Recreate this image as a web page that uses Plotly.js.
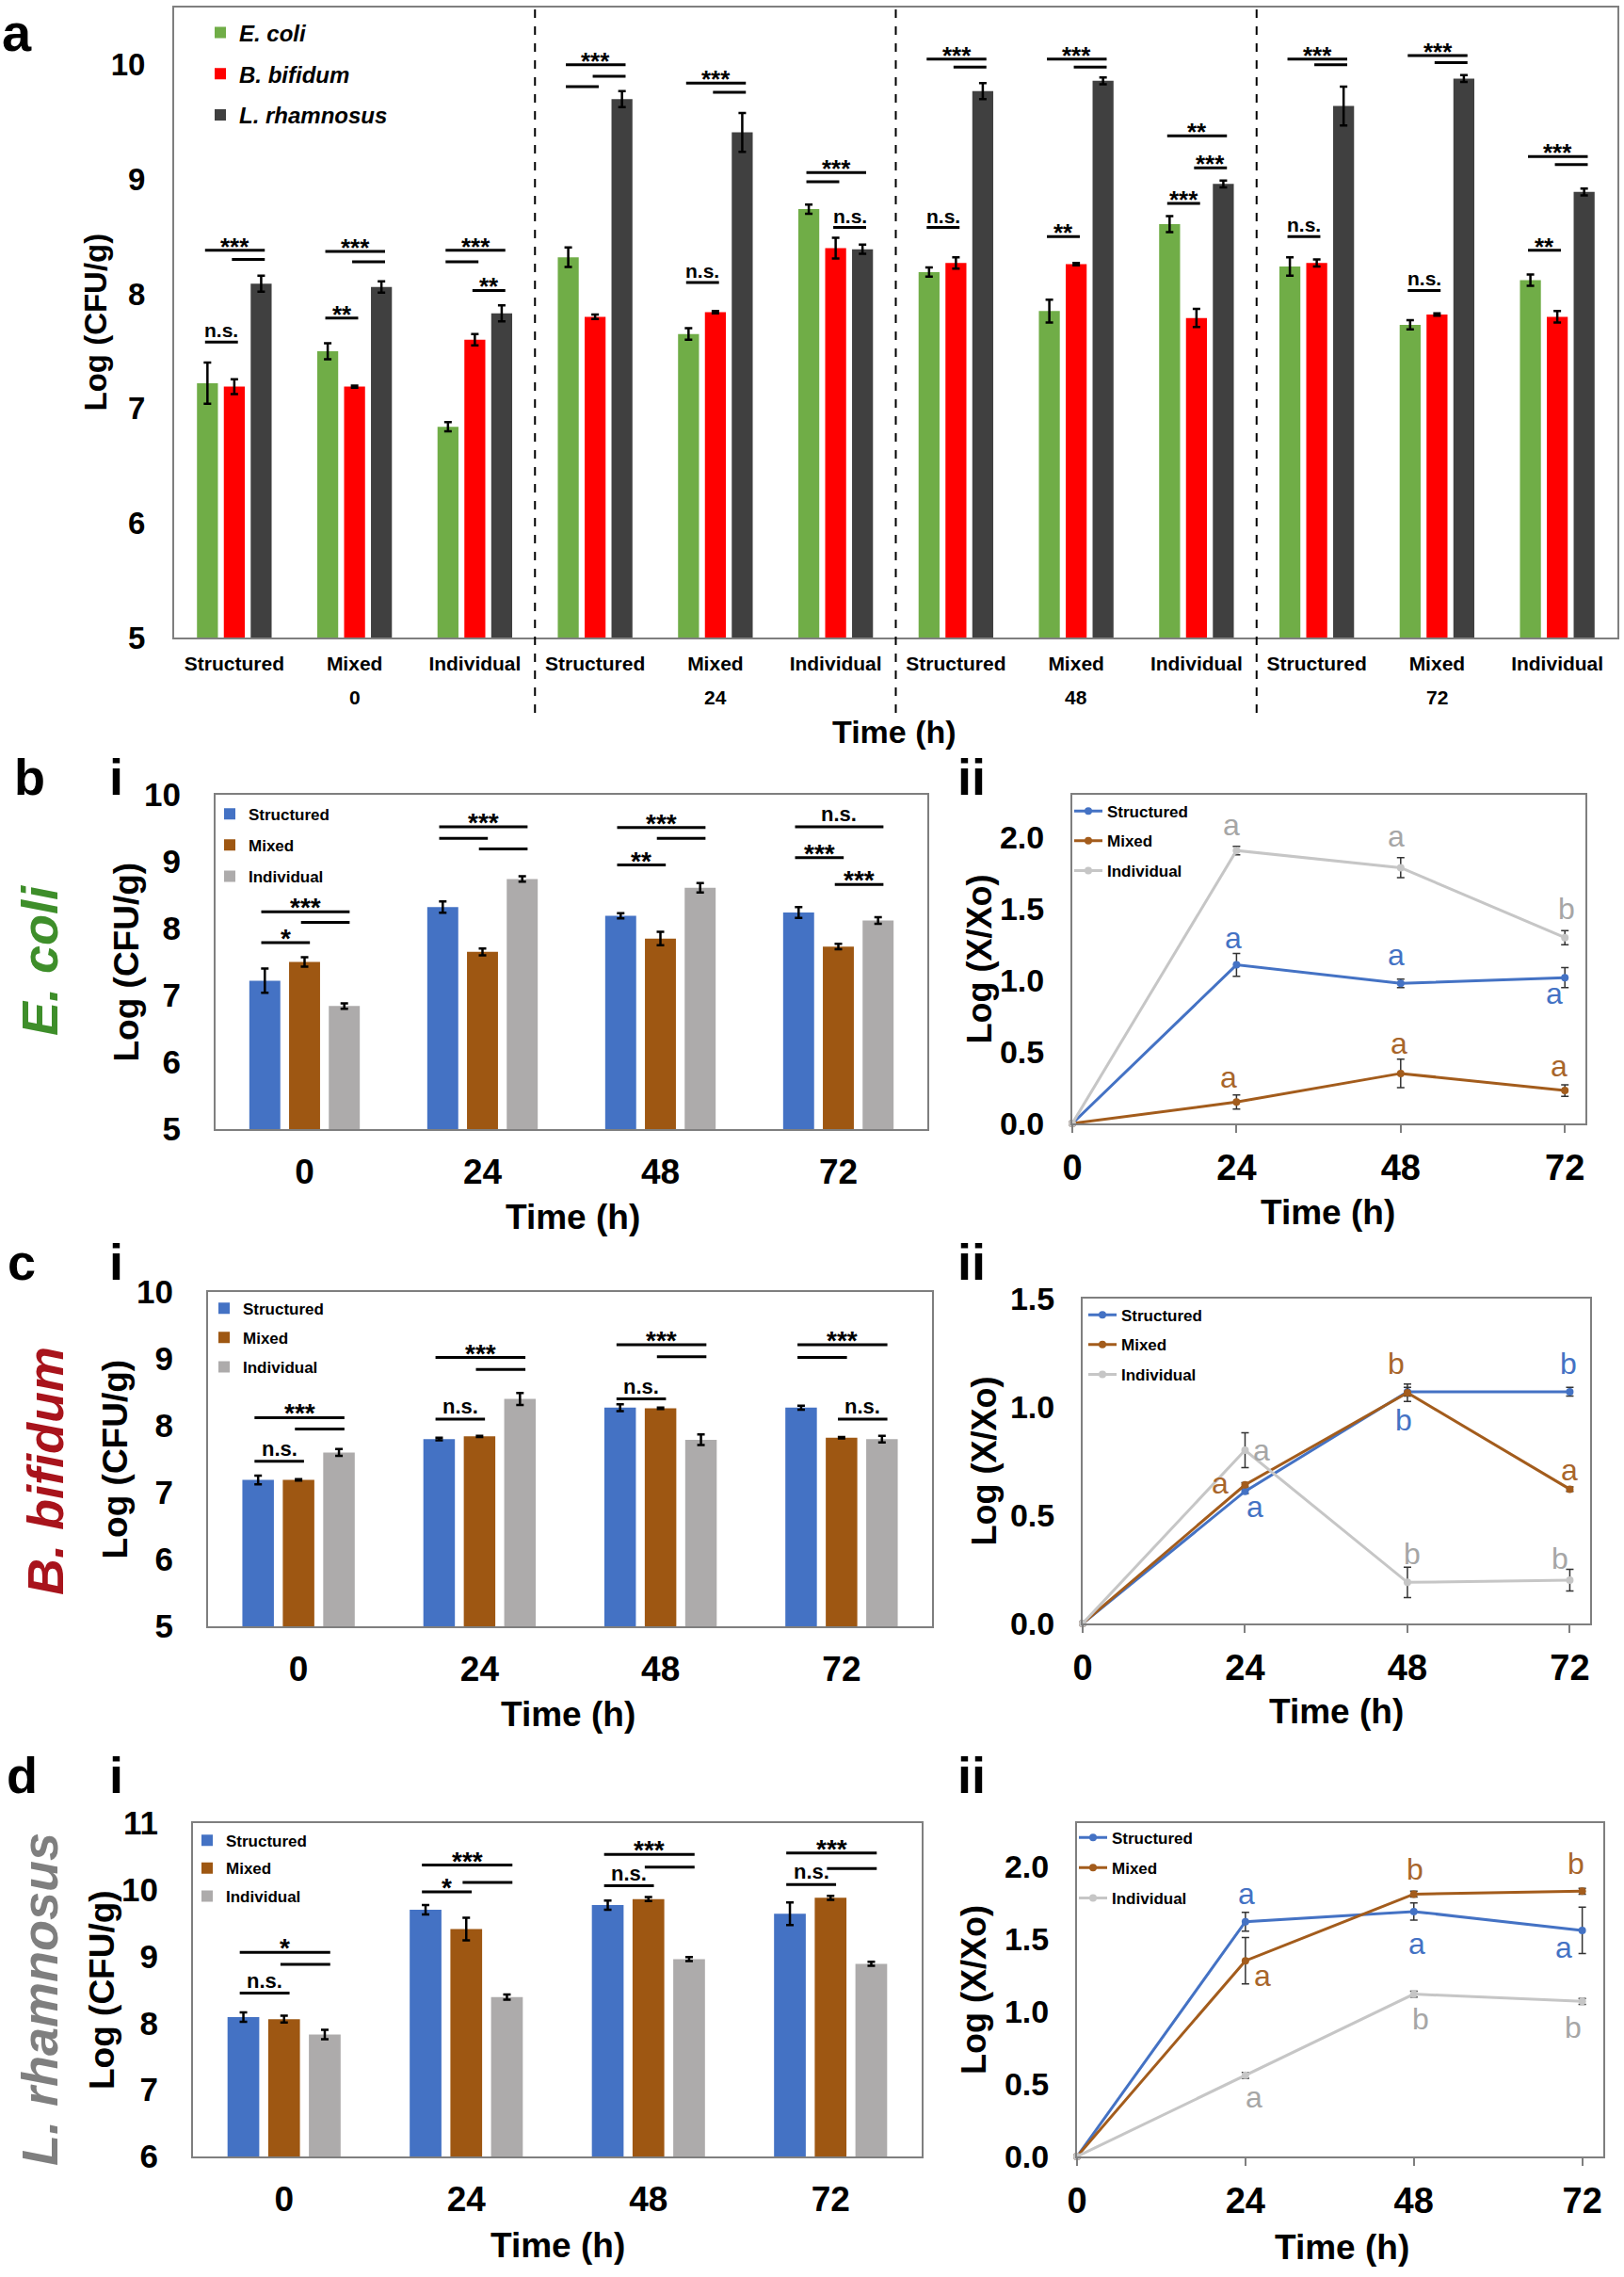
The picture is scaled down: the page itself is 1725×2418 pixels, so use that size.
<!DOCTYPE html>
<html>
<head>
<meta charset="utf-8">
<script src="https://cdn.plot.ly/plotly-3.0.1.min.js"></script>
<style>
  html, body { margin: 0; padding: 0; background: #fff; }
  #fig { width: 1725px; height: 2418px; }
</style>
</head>
<body>
<div id="fig"></div>
<script>
// ---------- data ----------
const conditions = ['Structured', 'Mixed', 'Individual'];
const times = [0, 24, 48, 72];
const species = ['E. coli', 'B. bifidum', 'L. rhamnosus'];

// Log (CFU/g); order: 0 h (Structured, Mixed, Individual), 24 h (...), 48 h (...), 72 h (...)
const ecoliCfu   = [7.22, 7.50, 6.84, 8.32, 7.65, 8.74, 8.19, 7.85, 8.61, 8.24, 7.73, 8.12];
const ecoliSd    = [0.18, 0.07, 0.04, 0.085, 0.05, 0.04, 0.04, 0.10, 0.07, 0.08, 0.04, 0.05];
const bifidumCfu = [7.19, 7.19, 7.60, 7.80, 7.84, 8.40, 8.27, 8.26, 7.79, 8.27, 7.82, 7.80];
const bifidumSd  = [0.065, 0.01, 0.05, 0.02, 0.01, 0.09, 0.05, 0.01, 0.08, 0.03, 0.01, 0.05];
const rhamCfu    = [8.09, 8.06, 7.83, 9.70, 9.41, 8.39, 9.77, 9.86, 8.96, 9.64, 9.88, 8.89];
const rhamSd     = [0.07, 0.05, 0.07, 0.07, 0.17, 0.04, 0.07, 0.03, 0.03, 0.17, 0.03, 0.03];

// Log (X/Xo) at 0, 24, 48, 72 h
const ecoliGrowthStructured   = [0, 1.11, 0.98, 1.02];
const ecoliGrowthStructuredSd = [0, 0.08, 0.03, 0.07];
const ecoliGrowthMixed        = [0, 0.15, 0.35, 0.23];
const ecoliGrowthMixedSd      = [0, 0.05, 0.10, 0.04];
const ecoliGrowthIndividual   = [0, 1.91, 1.79, 1.30];
const ecoliGrowthIndividualSd = [0, 0.03, 0.07, 0.05];

const bifidumGrowthStructured   = [0, 0.61, 1.07, 1.07];
const bifidumGrowthStructuredSd = [0, 0.01, 0.02, 0.02];
const bifidumGrowthMixed        = [0, 0.64, 1.065, 0.62];
const bifidumGrowthMixedSd      = [0, 0.01, 0.04, 0.01];
const bifidumGrowthIndividual   = [0, 0.80, 0.19, 0.20];
const bifidumGrowthIndividualSd = [0, 0.08, 0.07, 0.05];

const rhamGrowthStructured   = [0, 1.62, 1.69, 1.56];
const rhamGrowthStructuredSd = [0, 0.065, 0.06, 0.16];
const rhamGrowthMixed        = [0, 1.35, 1.81, 1.83];
const rhamGrowthMixedSd      = [0, 0.16, 0.02, 0.02];
const rhamGrowthIndividual   = [0, 0.56, 1.12, 1.07];
const rhamGrowthIndividualSd = [0, 0.02, 0.02, 0.02];

// significance brackets: [group, from bar, to bar, level, label]
const sigSpecies = [
  [0, 0, 1, 7.58, 'n.s.'], [0, 0, 2, 8.38, '***'], [0, 1, 2, 8.30, ''],
  [1, 0, 1, 7.79, '**'],   [1, 0, 2, 8.37, '***'], [1, 1, 2, 8.28, ''],
  [2, 0, 2, 8.38, '***'],  [2, 0, 1, 8.28, ''],    [2, 1, 2, 8.03, '**'],
  [3, 0, 2, 10.00, '***'], [3, 1, 2, 9.90, ''],    [3, 0, 1, 9.81, ''],
  [4, 0, 2, 9.84, '***'],  [4, 1, 2, 9.76, ''],    [4, 0, 1, 8.10, 'n.s.'],
  [5, 0, 2, 9.06, '***'],  [5, 0, 1, 8.98, ''],    [5, 1, 2, 8.58, 'n.s.'],
  [6, 0, 1, 8.58, 'n.s.'], [6, 0, 2, 10.05, '***'], [6, 1, 2, 9.98, ''],
  [7, 0, 1, 8.50, '**'],   [7, 0, 2, 10.05, '***'], [7, 1, 2, 9.98, ''],
  [8, 0, 2, 9.38, '**'],   [8, 1, 2, 9.10, '***'],  [8, 0, 1, 8.79, '***'],
  [9, 0, 1, 8.50, 'n.s.'], [9, 0, 2, 10.05, '***'], [9, 1, 2, 10.00, ''],
  [10, 0, 1, 8.03, 'n.s.'], [10, 0, 2, 10.08, '***'], [10, 1, 2, 10.02, ''],
  [11, 0, 1, 8.38, '**'],  [11, 0, 2, 9.20, '***'], [11, 1, 2, 9.13, '']
];
const sigEcoli = [
  [0, 0, 1, 7.79, '*'],  [0, 0, 2, 8.25, '***'], [0, 1, 2, 8.09, ''],
  [1, 0, 2, 9.52, '***'], [1, 0, 1, 9.35, ''],  [1, 1, 2, 9.19, ''],
  [2, 0, 2, 9.51, '***'], [2, 1, 2, 9.35, ''],  [2, 0, 1, 8.95, '**'],
  [3, 0, 2, 9.52, 'n.s.'], [3, 0, 1, 9.06, '***'], [3, 1, 2, 8.66, '***']
];
const sigBifidum = [
  [0, 0, 1, 7.47, 'n.s.'], [0, 0, 2, 8.12, '***'], [0, 1, 2, 7.95, ''],
  [1, 0, 1, 8.10, 'n.s.'], [1, 0, 2, 9.02, '***'], [1, 1, 2, 8.84, ''],
  [2, 0, 1, 8.40, 'n.s.'], [2, 0, 2, 9.21, '***'], [2, 1, 2, 9.03, ''],
  [3, 0, 2, 9.21, '***'],  [3, 0, 1, 9.02, ''],    [3, 1, 2, 8.10, 'n.s.']
];
const sigRham = [
  [0, 0, 1, 8.45, 'n.s.'], [0, 0, 2, 9.06, '*'],   [0, 1, 2, 8.88, ''],
  [1, 0, 2, 10.37, '***'], [1, 1, 2, 10.11, ''],   [1, 0, 1, 9.97, '*'],
  [2, 0, 1, 10.06, 'n.s.'], [2, 0, 2, 10.53, '***'], [2, 1, 2, 10.34, ''],
  [3, 0, 1, 10.08, 'n.s.'], [3, 0, 2, 10.55, '***'], [3, 1, 2, 10.32, '']
];

// letters of the growth panels: [hour, level, letter, condition]
const lettersEcoli = [
  [23.2, 2.09, 'a', 2], [47.4, 2.01, 'a', 2], [72.2, 1.50, 'b', 2],
  [23.5, 1.30, 'a', 0], [47.4, 1.18, 'a', 0], [70.5, 0.91, 'a', 0],
  [22.9, 0.32, 'a', 1], [47.7, 0.56, 'a', 1], [71.2, 0.40, 'a', 1]
];
const lettersBifidum = [
  [20.3, 0.65, 'a', 1], [25.4, 0.54, 'a', 0], [26.4, 0.80, 'a', 2],
  [46.4, 1.20, 'b', 1], [47.5, 0.94, 'b', 0], [71.8, 1.20, 'b', 0],
  [71.9, 0.71, 'a', 1], [48.7, 0.32, 'b', 2], [70.5, 0.30, 'b', 2]
];
const lettersRham = [
  [24.2, 1.81, 'a', 0], [26.4, 1.25, 'a', 1], [25.2, 0.41, 'a', 2],
  [48.1, 1.98, 'b', 1], [48.5, 1.47, 'a', 0], [49.0, 0.95, 'b', 2],
  [71.1, 2.02, 'b', 1], [69.4, 1.44, 'a', 0], [70.7, 0.89, 'b', 2]
];

// ---------- styling ----------
const W = 1725, H = 2418;
const FONT = 'Liberation Sans, Arial, sans-serif';
const speciesColors = ['#70AD47', '#FF0000', '#404040'];
const condColors = ['#4472C4', '#9E5712', '#ADABAB'];
const lineColors = ['#4472C4', '#A35C1C', '#C6C6C6'];
const letterColors = ['#4472C4', '#A8652B', '#A6A6A6'];
const frameColor = '#7F7F7F';
const BARGAP = 0.33, BARGROUPGAP = 0.22;
const SLOT = (1 - BARGAP) / 3;

const px = x => x / W;
const py = y => 1 - y / H;

const traces = [];
const shapes = [];
const annotations = [];
const layout = {
  width: W, height: H,
  margin: { l: 0, r: 0, t: 0, b: 0 },
  paper_bgcolor: '#fff', plot_bgcolor: '#fff',
  barmode: 'group', bargap: BARGAP, bargroupgap: BARGROUPGAP,
  showlegend: true,
  shapes, annotations
};

function axisKeys(n) { return n === 1 ? ['xaxis', 'yaxis', 'x', 'y'] : ['xaxis' + n, 'yaxis' + n, 'x' + n, 'y' + n]; }

function frame(box, n, xOpts, yOpts) {
  const [xa, ya, xr, yr] = axisKeys(n);
  const common = { showline: true, mirror: true, linecolor: frameColor, linewidth: 2,
                   showgrid: false, zeroline: false, fixedrange: true };
  layout[xa] = Object.assign({}, common, { domain: [px(box[0]), px(box[2])], anchor: yr }, xOpts);
  layout[ya] = Object.assign({}, common, { domain: [py(box[3]), py(box[1])], anchor: xr }, yOpts);
}

function text(t, x, y, size, opts) {
  annotations.push(Object.assign({
    xref: 'paper', yref: 'paper', x: px(x), y: py(y), text: t, showarrow: false,
    xanchor: 'center', yanchor: 'middle',
    font: { family: FONT, size, weight: 700, color: '#000' }
  }, opts || {}));
}

function legendAt(key, symX, firstY, size, gap, style) {
  layout[key] = {
    x: px(symX - 22), y: py(firstY - size * 0.9), xanchor: 'left', yanchor: 'top',
    bgcolor: 'rgba(0,0,0,0)', borderwidth: 0, traceorder: 'grouped', tracegroupgap: gap,
    itemwidth: 30,
    font: Object.assign({ family: FONT, size, weight: 700, color: '#000' }, style || {})
  };
}

function sigMarks(list, n, starSize, nsSize) {
  const [, , xr, yr] = axisKeys(n);
  list.forEach(([g, i, j, lvl, lab]) => {
    const x0 = g + (i - 1) * SLOT - 0.02, x1 = g + (j - 1) * SLOT + 0.03;
    shapes.push({ type: 'line', xref: xr, yref: yr, x0, x1, y0: lvl, y1: lvl,
                  line: { color: '#000', width: 3 } });
    if (lab) {
      const star = lab.indexOf('*') >= 0;
      annotations.push({ xref: xr, yref: yr, x: (x0 + x1) / 2, y: lvl, text: lab, showarrow: false,
        xanchor: 'center', yanchor: 'bottom', yshift: star ? -13 : -1,
        font: { family: FONT, size: star ? starSize : nsSize, weight: 700, color: '#000' } });
    }
  });
}

const errStyle = (arr) => ({ type: 'data', array: arr, visible: true, color: '#000', thickness: 2.5, width: 4 });

// ---------- panel a: all species by condition and time ----------
const boxA = [185, 8, 1718, 677];
const groupX = ecoliCfu.map((_, i) => i);
const speciesCfu = [ecoliCfu, bifidumCfu, rhamCfu];
const speciesSd = [ecoliSd, bifidumSd, rhamSd];
species.forEach((name, k) => {
  traces.push({ type: 'bar', x: groupX, y: speciesCfu[k], name, xaxis: 'x', yaxis: 'y',
    marker: { color: speciesColors[k] }, error_y: errStyle(speciesSd[k]),
    legend: 'legend', legendgroup: 'a' + k });
});
frame(boxA, 1,
  { range: [-0.5, 11.5], tickmode: 'array', tickvals: groupX,
    ticktext: groupX.map(i => conditions[i % 3]), ticks: '', ticklabelstandoff: 8,
    tickfont: { family: FONT, size: 21, weight: 700, color: '#000' } },
  { range: [5, 10.5], tickmode: 'array', tickvals: [5, 6, 7, 8, 9, 10], ticks: '',
    ticklabelstandoff: 22, tickfont: { family: FONT, size: 33, weight: 700, color: '#000' } });
legendAt('legend', 236, 34, 24, 9.5, { style: 'italic' });
sigMarks(sigSpecies, 1, 26, 21);
[2.5, 5.5, 8.5].forEach(xv => shapes.push({ type: 'line', xref: 'x', yref: 'paper', x0: xv, x1: xv,
  y0: py(757), y1: py(boxA[1]), line: { color: '#000', width: 2, dash: 'dash' } }));
times.forEach((t, i) => annotations.push({ xref: 'x', yref: 'paper', x: i * 3 + 1, y: py(740), text: String(t),
  showarrow: false, xanchor: 'center', yanchor: 'middle', font: { family: FONT, size: 21, weight: 700, color: '#000' } }));
text('Time (h)', 950, 777, 34);
text('Log (CFU/g)', 101, (boxA[1] + boxA[3]) / 2, 33, { textangle: -90 });
text('a', 18, 34, 56);

// ---------- panels b-d ----------
const panels = [
  { letter: 'b', name: 'E. coli', nameColor: '#3E8E2A', cfu: ecoliCfu, sd: ecoliSd, sig: sigEcoli,
    growth: [ecoliGrowthStructured, ecoliGrowthMixed, ecoliGrowthIndividual],
    growthSd: [ecoliGrowthStructuredSd, ecoliGrowthMixedSd, ecoliGrowthIndividualSd],
    letters: lettersEcoli,
    boxI: [229, 844, 985, 1199], rangeI: [5, 10], boxII: [1139, 844, 1684, 1193], topII: 2.3,
    legI: [246, 862, 8], legII: [1158, 859, 6.5],
    labelY: 825, nameXY: [42, 1020], titleIx: 134, titleIIx: 1040, timeI: [608, 1292], timeII: [1410, 1287] },
  { letter: 'c', name: 'B. bifidum', nameColor: '#A8141C', cfu: bifidumCfu, sd: bifidumSd, sig: sigBifidum,
    growth: [bifidumGrowthStructured, bifidumGrowthMixed, bifidumGrowthIndividual],
    growthSd: [bifidumGrowthStructuredSd, bifidumGrowthMixedSd, bifidumGrowthIndividualSd],
    letters: lettersBifidum,
    boxI: [221, 1372, 990, 1727], rangeI: [5, 10], boxII: [1150, 1379, 1689, 1724], topII: 1.5,
    legI: [240, 1387, 6], legII: [1173, 1394, 6.5],
    labelY: 1340, nameXY: [48, 1562], titleIx: 122, titleIIx: 1045, timeI: [603, 1820], timeII: [1419, 1817] },
  { letter: 'd', name: 'L. rhamnosus', nameColor: '#7F7F7F', cfu: rhamCfu, sd: rhamSd, sig: sigRham,
    growth: [rhamGrowthStructured, rhamGrowthMixed, rhamGrowthIndividual],
    growthSd: [rhamGrowthStructuredSd, rhamGrowthMixedSd, rhamGrowthIndividualSd],
    letters: lettersRham,
    boxI: [205, 1936, 979, 2290], rangeI: [6, 11], boxII: [1144, 1936, 1703, 2290], topII: 2.3,
    legI: [222, 1952, 4.5], legII: [1163, 1949, 7],
    labelY: 1885, nameXY: [42, 2123], titleIx: 108, titleIIx: 1034, timeI: [592, 2384], timeII: [1425, 2386] }
];

panels.forEach((p, idx) => {
  const nI = 2 + idx * 2, nII = 3 + idx * 2;
  const [, , xrI, yrI] = axisKeys(nI);
  const [, , xrII, yrII] = axisKeys(nII);
  const legI = 'legend' + nI, legII = 'legend' + nII;
  const timeX = times.map((_, t) => t);

  // i: bars by condition
  conditions.forEach((c, k) => {
    traces.push({ type: 'bar', x: timeX, y: times.map((_, t) => p.cfu[t * 3 + k]), name: c,
      xaxis: xrI, yaxis: yrI, marker: { color: condColors[k] },
      error_y: errStyle(times.map((_, t) => p.sd[t * 3 + k])),
      legend: legI, legendgroup: legI + k });
  });
  const yTicks = [];
  for (let v = p.rangeI[0]; v <= p.rangeI[1]; v++) yTicks.push(v);
  frame(p.boxI, nI,
    { range: [-0.5, 3.5], tickmode: 'array', tickvals: timeX, ticktext: times.map(String), ticks: '',
      ticklabelstandoff: 12, tickfont: { family: FONT, size: 37, weight: 700, color: '#000' } },
    { range: p.rangeI, tickmode: 'array', tickvals: yTicks, ticks: '', ticklabelstandoff: 28,
      tickfont: { family: FONT, size: 35, weight: 700, color: '#000' } });
  legendAt(legI, p.legI[0], p.legI[1], 17, p.legI[2]);
  sigMarks(p.sig, nI, 28, 22);

  // ii: growth lines
  conditions.forEach((c, k) => {
    traces.push({ type: 'scatter', mode: 'lines+markers', x: times, y: p.growth[k], name: c,
      xaxis: xrII, yaxis: yrII, cliponaxis: false,
      line: { color: lineColors[k], width: 3 }, marker: { color: lineColors[k], size: 8 },
      error_y: { type: 'data', array: p.growthSd[k], visible: true, color: '#333', thickness: 1.5, width: 4 },
      legend: legII, legendgroup: legII + k });
  });
  const gTicks = [];
  for (let v = 0; v <= p.topII + 1e-9; v += 0.5) gTicks.push(v);
  frame(p.boxII, nII,
    { range: [0, 75], tickmode: 'array', tickvals: times, ticks: 'outside', ticklen: 8, tickwidth: 2,
      tickcolor: frameColor, ticklabelstandoff: 4,
      tickfont: { family: FONT, size: 38, weight: 700, color: '#000' } },
    { range: [0, p.topII], tickmode: 'array', tickvals: gTicks, tickformat: '.1f', ticks: '',
      ticklabelstandoff: 21, tickfont: { family: FONT, size: 34, weight: 700, color: '#000' } });
  legendAt(legII, p.legII[0], p.legII[1], 17, p.legII[2]);
  p.letters.forEach(([hx, lv, t, k]) => annotations.push({ xref: xrII, yref: yrII, x: hx, y: lv, text: t,
    showarrow: false, xanchor: 'center', yanchor: 'middle',
    font: { family: FONT, size: 32, color: letterColors[k] } }));

  // labels and titles
  text(p.letter, p.letter === 'b' ? 31 : 23, p.labelY, 54);
  text('i', 123, p.labelY, 54);
  text('ii', 1032, p.labelY, 54);
  text(p.name, p.nameXY[0], p.nameXY[1], 54,
       { textangle: -90, font: { family: FONT, size: 54, weight: 700, style: 'italic', color: p.nameColor } });
  text('Log (CFU/g)', p.titleIx, (p.boxI[1] + p.boxI[3]) / 2, 37, { textangle: -90 });
  text('Log (X/Xo)', p.titleIIx, (p.boxII[1] + p.boxII[3]) / 2, 36, { textangle: -90 });
  text('Time (h)', p.timeI[0], p.timeI[1], 37);
  text('Time (h)', p.timeII[0], p.timeII[1], 37);
});

Plotly.newPlot('fig', traces, layout, { staticPlot: true, displayModeBar: false });
</script>
</body>
</html>
